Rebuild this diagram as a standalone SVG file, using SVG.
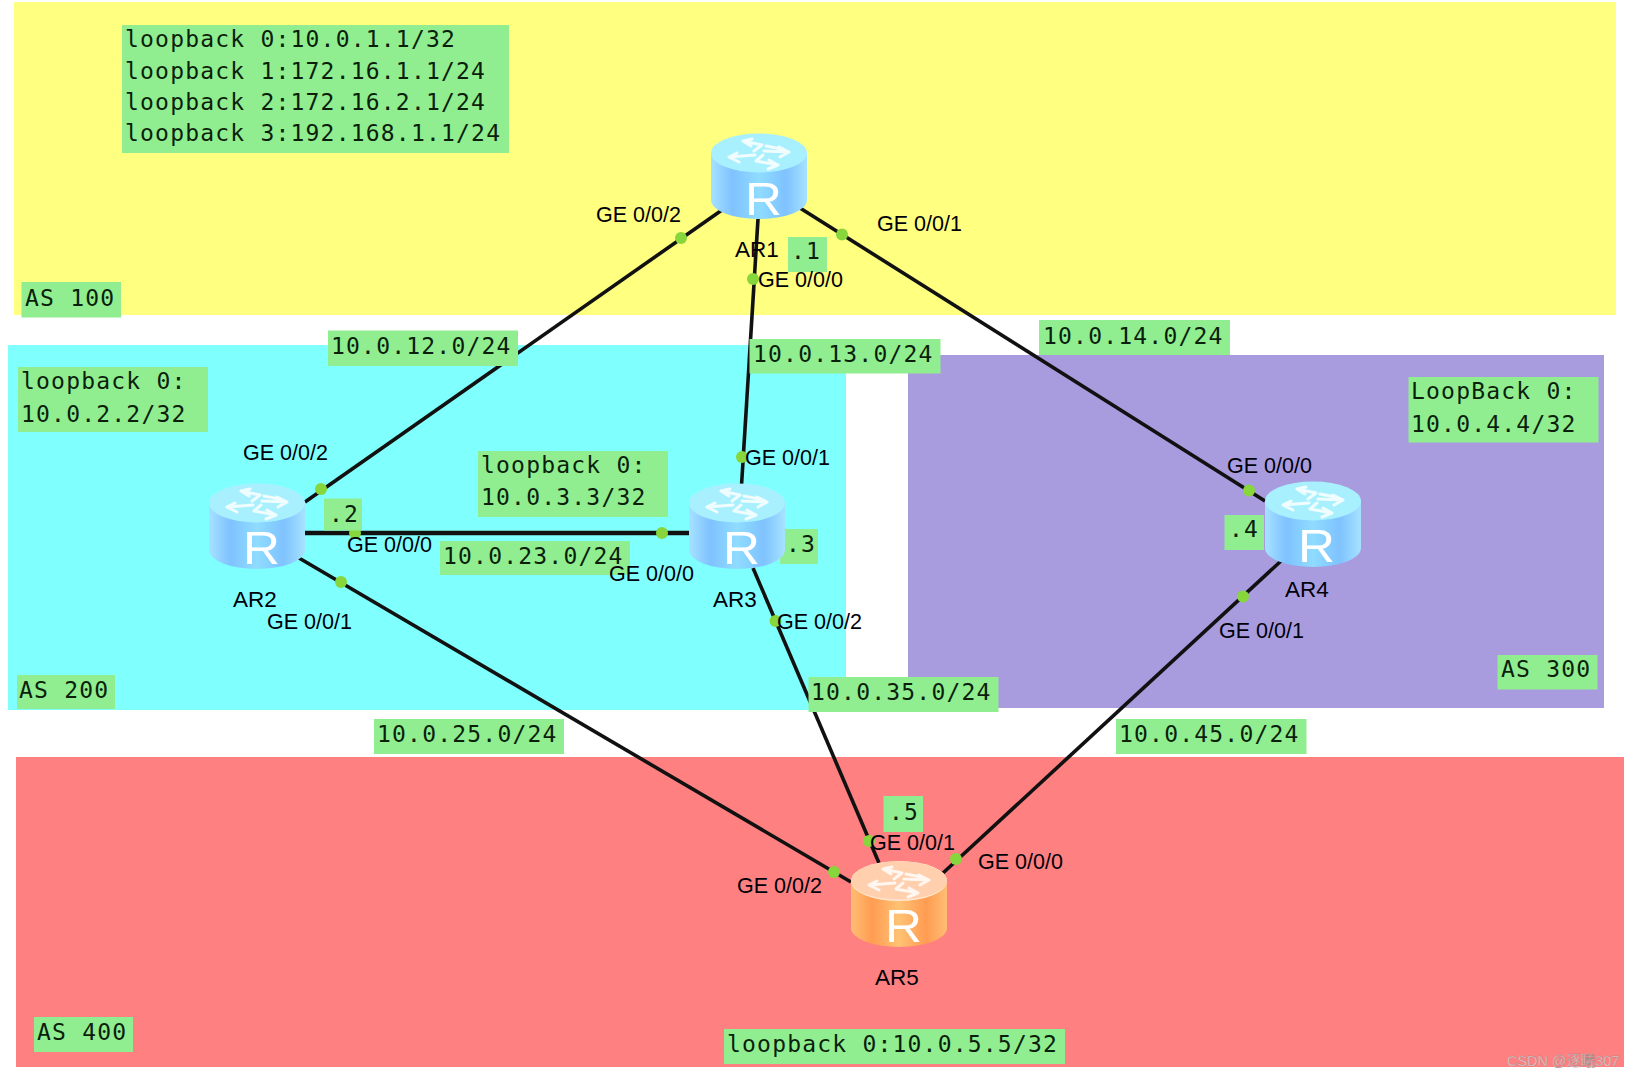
<svg xmlns="http://www.w3.org/2000/svg" width="1634" height="1078" viewBox="0 0 1634 1078">
<style>
.tag{fill:#90ee90}
.m{font-family:"DejaVu Sans Mono","Liberation Mono",monospace;font-size:23px;letter-spacing:1.2px;fill:#0b1f0b}
.p{font-family:"Liberation Sans",Arial,sans-serif;font-size:21.5px;fill:#000008}
.n{font-family:"Liberation Sans",Arial,sans-serif;font-size:22.5px;fill:#000008}
.r{font-family:"Liberation Sans",Arial,sans-serif;font-size:47px;fill:#fff}
.link{stroke:#111;stroke-width:3.6;fill:none}
.thick{stroke-width:4.6}
.dot{fill:#86d63c}
.w{font-family:"Liberation Sans","Noto Sans CJK SC",sans-serif;font-size:14.4px;fill:#eccaca;stroke:#9a8080;stroke-width:.3}
.arr{fill:none;stroke:#fff;stroke-width:3;stroke-linejoin:round;stroke-linecap:round;opacity:.82}
</style>
<defs>
<linearGradient id="gb" x1="0" x2="1" y1="0" y2="0">
<stop offset="0" stop-color="#a6e2ff"/><stop offset=".22" stop-color="#7fc2ff"/><stop offset=".5" stop-color="#8fdcff"/><stop offset=".78" stop-color="#7fc2ff"/><stop offset="1" stop-color="#a6e2ff"/>
</linearGradient>
<linearGradient id="go" x1="0" x2="1" y1="0" y2="0">
<stop offset="0" stop-color="#ffbe74"/><stop offset=".22" stop-color="#ff9c52"/><stop offset=".5" stop-color="#ffc274"/><stop offset=".78" stop-color="#ff9c52"/><stop offset="1" stop-color="#ffbe74"/>
</linearGradient>
<g id="glyph">
<path class="arr" d="M-5,-2 L3,-8 L-16,-12 M-16,-12 L-7,-14 M-16,-12 L-8,-7"/>
<path class="arr" d="M-4,2 L-30,4 M-30,4 L-22,0 M-30,4 L-20,9"/>
<path class="arr" d="M5,-2 L30,-1 M30,-1 L20,-6 M30,-1 L21,4 M7,-7 L22,-4"/>
<path class="arr" d="M4,2 L-3,8 L19,12 M19,12 L10,7 M19,12 L9,16"/>
</g>
<g id="router-blue">
<path d="M-48,19 V66 A48,19 0 0 0 48,66 V19 Z" fill="url(#gb)"/>
<ellipse cx="0" cy="19" rx="48" ry="19.5" fill="#a9f0ff"/>
<use href="#glyph" y="19"/>
</g>
<g id="router-orange">
<path d="M-48,19 V66 A48,19 0 0 0 48,66 V19 Z" fill="url(#go)"/>
<ellipse cx="0" cy="19" rx="48" ry="20" fill="#ffe6cc"/>
<ellipse cx="0" cy="18.5" rx="48" ry="19" fill="#ffcfae"/>
<use href="#glyph" y="19"/>
</g>
</defs>
<rect width="1634" height="1078" fill="#fff"/>
<g id="regions">
<rect id="as100" x="14" y="2" width="1602" height="313" fill="#ffff80"/>
<rect id="as200" x="8" y="345" width="838" height="365" fill="#80ffff"/>
<rect id="as300" x="908" y="355" width="696" height="353" fill="#a89cdf"/>
<rect id="as400" x="16" y="757" width="1608" height="310" fill="#ff8080"/>
</g>
<g id="connectors">
<line class="link" x1="722" y1="210" x2="305" y2="502"/>
<line class="link" x1="758" y1="219" x2="741.6" y2="484"/>
<line class="link" x1="800" y1="208" x2="1265" y2="501"/>
<line class="link thick" x1="305" y1="533" x2="689" y2="533"/>
<line class="link" x1="299" y1="558" x2="851" y2="882"/>
<line class="link" x1="753" y1="568" x2="879" y2="863"/>
<line class="link" x1="1281" y1="561" x2="943" y2="873"/>
<g class="dot">
<circle cx="681" cy="238" r="6"/><circle cx="321" cy="489" r="6"/>
<circle cx="753" cy="279" r="6"/><circle cx="742" cy="457" r="6"/>
<circle cx="842" cy="234.500" r="6"/><circle cx="1249" cy="490.500" r="6"/>
<circle cx="355" cy="533" r="6"/><circle cx="662" cy="533" r="6"/>
<circle cx="341" cy="582" r="6"/><circle cx="834" cy="872" r="6"/>
<circle cx="775.500" cy="621" r="6"/><circle cx="869" cy="841" r="6"/>
<circle cx="1243" cy="596.500" r="6"/><circle cx="956" cy="859" r="6"/>
</g>
</g>
<g id="labels">
<g id="lb-ar1"><rect class="tag" x="122" y="25" width="387" height="128"/>
<text class="m" x="125" y="47">loopback 0:10.0.1.1/32</text>
<text class="m" x="125" y="79">loopback 1:172.16.1.1/24</text>
<text class="m" x="125" y="110">loopback 2:172.16.2.1/24</text>
<text class="m" x="125" y="141">loopback 3:192.168.1.1/24</text></g>
<g id="t-as100"><rect class="tag" x="21.500" y="282" width="99.500" height="35.500"/><text class="m" x="25" y="306">AS 100</text></g>
<g id="t-12"><rect class="tag" x="328" y="330.500" width="190" height="35.500"/><text class="m" x="331" y="354">10.0.12.0/24</text></g>
<g id="lb-ar2"><rect class="tag" x="18" y="367" width="190" height="65"/>
<text class="m" x="21" y="389">loopback 0:</text>
<text class="m" x="21" y="422">10.0.2.2/32</text></g>
<g id="lb-ar3"><rect class="tag" x="478" y="451" width="190" height="66"/>
<text class="m" x="481" y="473">loopback 0:</text>
<text class="m" x="481" y="505">10.0.3.3/32</text></g>
<g id="t-2"><rect class="tag" x="324" y="498.500" width="38" height="32"/><text class="m" x="329" y="522">.2</text></g>
<g id="t-1"><rect class="tag" x="788" y="237" width="39" height="35"/><text class="m" x="791" y="259">.1</text></g>
<g id="t-13"><rect class="tag" x="749.500" y="339" width="191" height="34.500"/><text class="m" x="753" y="362">10.0.13.0/24</text></g>
<g id="t-14"><rect class="tag" x="1039" y="320" width="191" height="35"/><text class="m" x="1043" y="344">10.0.14.0/24</text></g>
<g id="lb-ar4"><rect class="tag" x="1408.500" y="377" width="190" height="65.500"/>
<text class="m" x="1411" y="399">LoopBack 0:</text>
<text class="m" x="1411" y="432">10.0.4.4/32</text></g>
<g id="t-4"><rect class="tag" x="1224.500" y="515" width="39.500" height="35"/><text class="m" x="1229" y="537">.4</text></g>
<g id="t-3"><rect class="tag" x="780" y="529" width="38" height="35"/><text class="m" x="786" y="552">.3</text></g>
<g id="t-23"><rect class="tag" x="440" y="541" width="190" height="34"/><text class="m" x="443" y="564">10.0.23.0/24</text></g>
<g id="t-as200"><rect class="tag" x="17" y="675" width="98" height="34"/><text class="m" x="19" y="698">AS 200</text></g>
<g id="t-25"><rect class="tag" x="374" y="719" width="190" height="35"/><text class="m" x="377" y="742">10.0.25.0/24</text></g>
<g id="t-as400"><rect class="tag" x="34" y="1017" width="99" height="35"/><text class="m" x="37" y="1040">AS 400</text></g>
<g id="lb-ar5"><rect class="tag" x="724" y="1029" width="341" height="35"/><text class="m" x="727" y="1052">loopback 0:10.0.5.5/32</text></g>
<g id="t-35"><rect class="tag" x="808.500" y="677" width="190" height="35"/><text class="m" x="811" y="700">10.0.35.0/24</text></g>
<g id="t-as300"><rect class="tag" x="1497.500" y="655" width="100" height="34.500"/><text class="m" x="1501" y="677">AS 300</text></g>
<g id="t-45"><rect class="tag" x="1116" y="719" width="190.500" height="35"/><text class="m" x="1119" y="742">10.0.45.0/24</text></g>
<g id="t-5"><rect class="tag" x="883.500" y="796" width="39.500" height="36"/><text class="m" x="889" y="820">.5</text></g>
</g>
<g id="AR1"><use href="#router-blue" x="759" y="134"/><text class="r" x="745" y="215" textLength="37" lengthAdjust="spacingAndGlyphs">R</text><text class="n" x="735" y="257">AR1</text></g>
<g id="AR2"><use href="#router-blue" x="257" y="484"/><text class="r" x="243" y="564" textLength="37" lengthAdjust="spacingAndGlyphs">R</text><text class="n" x="233" y="607">AR2</text></g>
<g id="AR3"><use href="#router-blue" x="737" y="484"/><text class="r" x="723" y="564" textLength="37" lengthAdjust="spacingAndGlyphs">R</text><text class="n" x="713" y="607">AR3</text></g>
<g id="AR4"><use href="#router-blue" x="1313" y="482"/><text class="r" x="1298" y="562" textLength="37" lengthAdjust="spacingAndGlyphs">R</text><text class="n" x="1285" y="597">AR4</text></g>
<g id="AR5"><use href="#router-orange" x="899" y="862"/><text class="r" x="885" y="942" textLength="37" lengthAdjust="spacingAndGlyphs">R</text><text class="n" x="875" y="985">AR5</text></g>
<g id="port-labels">
<text class="p" x="596" y="222">GE 0/0/2</text>
<text class="p" x="877" y="231">GE 0/0/1</text>
<text class="p" x="758" y="287">GE 0/0/0</text>
<text class="p" x="243" y="460">GE 0/0/2</text>
<text class="p" x="745" y="465">GE 0/0/1</text>
<text class="p" x="1227" y="473">GE 0/0/0</text>
<text class="p" x="347" y="552">GE 0/0/0</text>
<text class="p" x="609" y="581">GE 0/0/0</text>
<text class="p" x="267" y="629">GE 0/0/1</text>
<text class="p" x="777" y="629">GE 0/0/2</text>
<text class="p" x="1219" y="638">GE 0/0/1</text>
<text class="p" x="737" y="893">GE 0/0/2</text>
<text class="p" x="870" y="850">GE 0/0/1</text>
<text class="p" x="978" y="869">GE 0/0/0</text>
</g>
<text class="w" x="1507" y="1066">CSDN @逐曦307</text>
</svg>
